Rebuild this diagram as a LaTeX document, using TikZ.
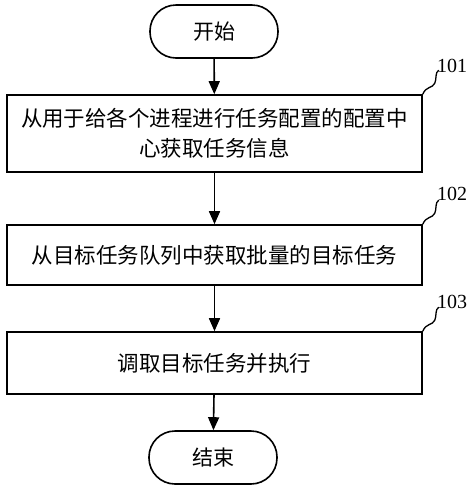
\documentclass[tikz,border=0pt]{standalone}
\usepackage{fontspec}
\newfontfamily\cjk{Noto Sans CJK SC}
\newfontfamily\numf{Liberation Serif}
\usetikzlibrary{arrows.meta}
\begin{document}
\begin{tikzpicture}[x=1pt,y=-1pt,
  line width=1.6pt,
  term/.style={draw,rounded corners=26pt,minimum width=128pt,minimum height=53pt,inner sep=0pt,font=\cjk\fontsize{21}{24}\selectfont},
  procbox/.style={draw,minimum width=415pt,inner sep=0pt,font=\cjk\fontsize{21.5}{30}\selectfont,align=center},
  flow/.style={-{Triangle[length=13pt,width=11pt]}},
  lbl/.style={font=\numf\fontsize{20}{20}\selectfont,inner sep=0pt}]
\useasboundingbox (0,0) rectangle (474,491);
\node[term] (start) at (214,31.5) {开始};
\node[procbox,minimum height=77pt] (s1) at (214.5,133.5) {从用于给各个进程进行任务配置的配置中\\心获取任务信息};
\node[procbox,minimum height=60pt] (s2) at (214.5,255) {从目标任务队列中获取批量的目标任务};
\node[procbox,minimum height=62pt] (s3) at (214.5,363) {调取目标任务并执行};
\node[term] (end) at (213,457.5) {结束};
\draw[flow] (start) -- (s1);
\draw[flow] (s1) -- (s2);
\draw[flow] (s2) -- (s3);
\draw[flow] (s3) -- (end);
\node[lbl] (l1) at (452,66) {101};
\node[lbl] (l2) at (452,194) {102};
\node[lbl] (l3) at (452,302) {103};
\foreach \b in {s1,s2,s3}{
  \coordinate (c\b) at (\b.north east);
  \draw[line width=1.3pt] (c\b) .. controls ([xshift=3pt,yshift=8pt]c\b) and ([xshift=10pt,yshift=6pt]c\b) .. ([xshift=12pt,yshift=11pt]c\b)
     .. controls ([xshift=14pt,yshift=15pt]c\b) and ([xshift=12pt,yshift=22pt]c\b) .. ([xshift=16pt,yshift=24pt]c\b);
}
\end{tikzpicture}
\end{document}
